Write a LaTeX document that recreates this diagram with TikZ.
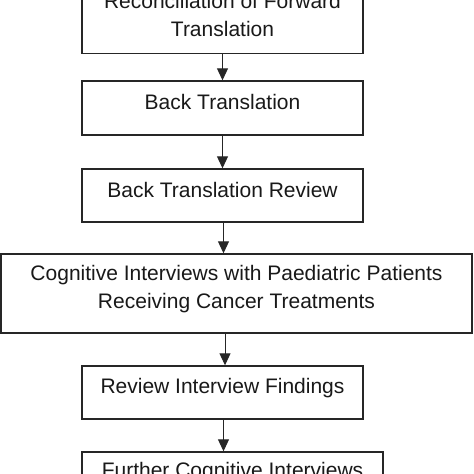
\documentclass[tikz,border=0pt]{standalone}
\usepackage{fontspec}
\setmainfont{Liberation Sans}
\usetikzlibrary{arrows.meta}
\begin{document}
\begin{tikzpicture}[x=1pt,y=-1pt,
  box/.style={draw=black!85,line width=1.4pt,rectangle,inner sep=0pt,fill=white},
  txt/.style={anchor=base,inner sep=0pt,font=\fontsize{21}{28}\selectfont,align=center,text=black!90},
  conn/.style={draw=black!85,line width=1pt,-{Triangle[width=11pt,length=12pt]}}]
\useasboundingbox (0,0) rectangle (474,474);
\fill[white] (0,0) rectangle (474,474);
% boxes
\node[box,minimum width=281pt,minimum height=80pt] (b1) at (222.5,13.5) {};
\node[box,minimum width=281pt,minimum height=54pt] (b2) at (222.5,108) {};
\node[box,minimum width=281pt,minimum height=53pt] (b3) at (222.5,195.5) {};
\node[box,minimum width=471pt,minimum height=79pt] (b4) at (236.5,293.5) {};
\node[box,minimum width=281pt,minimum height=53pt] (b5) at (222.5,392.5) {};
\node[box,minimum width=301pt,minimum height=80pt] (b6) at (232.5,492) {};
% texts
\node[txt] (t1) at (222.5,36) {Reconciliation of Forward\\Translation};
\node[txt] (t2) at (222.5,109) {Back Translation};
\node[txt] (t3) at (222.5,197) {Back Translation Review};
\node[txt] (t4) at (236.5,308) {Cognitive Interviews with Paediatric Patients\\Receiving Cancer Treatments};
\node[txt] (t5) at (222.5,393) {Review Interview Findings};
\node[txt] (t6) at (232.5,477) {Further Cognitive Interviews};
% connectors
\draw[conn] (b1.south) -- (b2.north);
\draw[conn] (b2.south) -- (b3.north);
\draw[conn] ([xshift=1pt]b3.south) -- ([xshift=1pt]b3.south |- b4.north);
\draw[conn] ([xshift=2.5pt]b5.north |- b4.south) -- ([xshift=2.5pt]b5.north);
\draw[conn] ([xshift=1pt]b5.south) -- ([xshift=1pt]b5.south |- b6.north);
\end{tikzpicture}
\end{document}
